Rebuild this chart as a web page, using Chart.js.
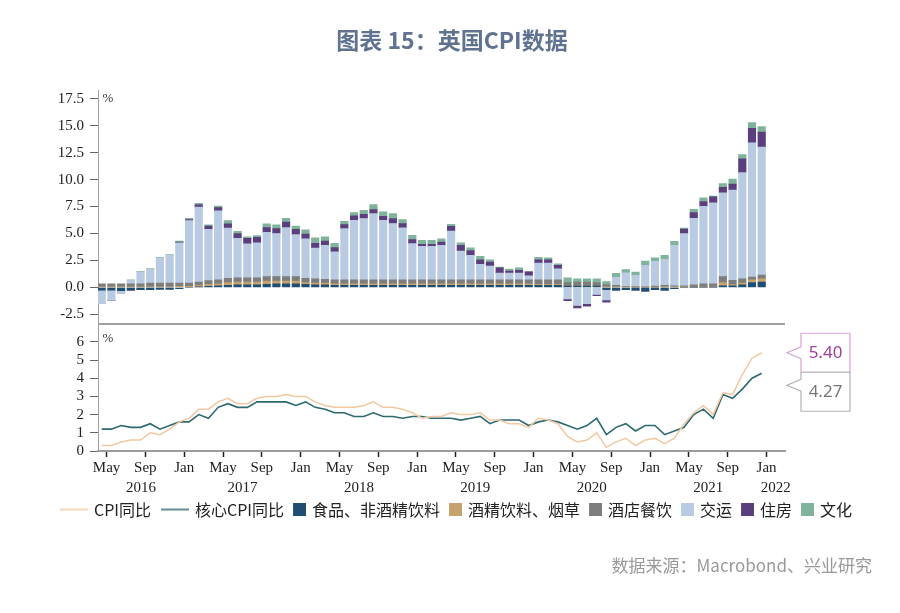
<!DOCTYPE html>
<html lang="zh">
<head>
<meta charset="UTF-8">
<title>图表 15：英国CPI数据</title>
<script src="https://cdn.jsdelivr.net/npm/chart.js"></script>
<style>
  body { margin: 0; background: #fff; }
</style>
</head>
<body>
<canvas id="cpiChart" width="900" height="613"></canvas>
<script>
// months Apr 2016 .. Dec 2021
const months = [
  '2016-04','2016-05','2016-06','2016-07','2016-08','2016-09','2016-10','2016-11','2016-12',
  '2017-01','2017-02','2017-03','2017-04','2017-05','2017-06','2017-07','2017-08','2017-09','2017-10','2017-11','2017-12',
  '2018-01','2018-02','2018-03','2018-04','2018-05','2018-06','2018-07','2018-08','2018-09','2018-10','2018-11','2018-12',
  '2019-01','2019-02','2019-03','2019-04','2019-05','2019-06','2019-07','2019-08','2019-09','2019-10','2019-11','2019-12',
  '2020-01','2020-02','2020-03','2020-04','2020-05','2020-06','2020-07','2020-08','2020-09','2020-10','2020-11','2020-12',
  '2021-01','2021-02','2021-03','2021-04','2021-05','2021-06','2021-07','2021-08','2021-09','2021-10','2021-11','2021-12'
];

// bottom panel, %
const cpiYoY = [
  0.3, 0.3, 0.5, 0.6, 0.6, 1.0, 0.9, 1.2, 1.6,
  1.8, 2.3, 2.3, 2.7, 2.9, 2.6, 2.6, 2.9, 3.0, 3.0, 3.1, 3.0,
  3.0, 2.7, 2.5, 2.4, 2.4, 2.4, 2.5, 2.7, 2.4, 2.4, 2.3, 2.1,
  1.8, 1.9, 1.9, 2.1, 2.0, 2.0, 2.1, 1.7, 1.7, 1.5, 1.5, 1.3,
  1.8, 1.7, 1.5, 0.8, 0.5, 0.6, 1.0, 0.2, 0.5, 0.7, 0.3, 0.6,
  0.7, 0.4, 0.7, 1.5, 2.1, 2.5, 2.0, 3.2, 3.1, 4.2, 5.1, 5.40
];
const coreYoY = [
  1.2, 1.2, 1.4, 1.3, 1.3, 1.5, 1.2, 1.4, 1.6,
  1.6, 2.0, 1.8, 2.4, 2.6, 2.4, 2.4, 2.7, 2.7, 2.7, 2.7, 2.5,
  2.7, 2.4, 2.3, 2.1, 2.1, 1.9, 1.9, 2.1, 1.9, 1.9, 1.8, 1.9,
  1.9, 1.8, 1.8, 1.8, 1.7, 1.8, 1.9, 1.5, 1.7, 1.7, 1.7, 1.4,
  1.6, 1.7, 1.6, 1.4, 1.2, 1.4, 1.8, 0.9, 1.3, 1.5, 1.1, 1.4,
  1.4, 0.9, 1.1, 1.3, 2.0, 2.3, 1.8, 3.1, 2.9, 3.4, 4.0, 4.27
];

// top panel components, %
const food = [
  -0.25, -0.25, -0.3, -0.25, -0.2, -0.2, -0.15, -0.15, -0.1,
  0.0, 0.05, 0.1, 0.15, 0.2, 0.25, 0.25, 0.25, 0.3, 0.35, 0.35, 0.35,
  0.3, 0.25, 0.25, 0.2, 0.2, 0.2, 0.2, 0.2, 0.2, 0.2, 0.2, 0.2,
  0.2, 0.2, 0.2, 0.2, 0.2, 0.2, 0.2, 0.2, 0.2, 0.2, 0.2, 0.2,
  0.2, 0.2, 0.2, 0.15, 0.15, 0.15, 0.15, -0.2, -0.25, -0.2, -0.25, -0.35,
  -0.2, -0.25, -0.1, 0.0, 0.02, 0.03, 0.03, 0.15, 0.15, 0.25, 0.46, 0.5
];
const alcohol = [
  0.05, 0.05, 0.05, 0.05, 0.05, 0.05, 0.05, 0.05, 0.1,
  0.1, 0.15, 0.2, 0.2, 0.25, 0.25, 0.25, 0.25, 0.3, 0.25, 0.25, 0.25,
  0.15, 0.15, 0.15, 0.15, 0.15, 0.15, 0.15, 0.15, 0.15, 0.15, 0.15, 0.15,
  0.15, 0.15, 0.15, 0.15, 0.15, 0.15, 0.15, 0.15, 0.15, 0.15, 0.15, 0.15,
  0.1, 0.1, 0.1, 0.05, 0.05, 0.05, 0.05, 0.05, 0.05, 0.05, 0.03, 0.03,
  0.03, 0.05, 0.05, 0.05, 0.03, 0.05, 0.05, 0.3, 0.12, 0.15, 0.25, 0.3
];
const restaurants = [
  0.3, 0.3, 0.3, 0.3, 0.3, 0.35, 0.35, 0.35, 0.3,
  0.3, 0.3, 0.35, 0.35, 0.4, 0.4, 0.4, 0.4, 0.4, 0.4, 0.4, 0.4,
  0.4, 0.4, 0.35, 0.35, 0.35, 0.35, 0.35, 0.35, 0.35, 0.35, 0.35, 0.35,
  0.35, 0.35, 0.35, 0.35, 0.35, 0.35, 0.35, 0.35, 0.35, 0.35, 0.35, 0.35,
  0.4, 0.4, 0.4, 0.25, 0.3, 0.3, 0.25, 0.2, 0.15, 0.05, 0.05, 0.02,
  0.1, 0.15, 0.1, 0.1, 0.2, 0.25, 0.27, 0.55, 0.4, 0.4, 0.25, 0.34
];
const transport = [
  -1.25, -0.95, -0.2, 0.3, 1.1, 1.3, 2.35, 2.6, 3.75,
  5.8, 6.95, 4.75, 6.4, 4.65, 3.65, 3.15, 3.25, 4.1, 4.0, 4.55, 3.9,
  3.65, 2.85, 3.15, 2.6, 4.75, 5.53, 5.69, 6.15, 5.53, 5.23, 4.82, 3.36,
  3.11, 3.11, 3.2, 4.53, 2.68, 2.27, 1.44, 1.28, 0.63, 0.63, 0.63, 0.38,
  1.56, 1.56, 1.04, -1.05, -1.67, -1.5, -0.65, -0.95, 0.75, 1.25, 1.05, 2.0,
  2.3, 2.4, 3.75, 4.84, 6.17, 7.18, 7.5, 7.77, 8.35, 9.85, 12.45, 11.86
];
const housing = [
  0, 0, 0, 0, 0, 0, 0, 0, 0.05,
  0.1, 0.2, 0.3, 0.3, 0.4, 0.45, 0.5, 0.5, 0.45, 0.45, 0.5, 0.5,
  0.45, 0.45, 0.4, 0.4, 0.37, 0.4, 0.4, 0.37, 0.37, 0.46, 0.4, 0.37,
  0.19, 0.19, 0.31, 0.43, 0.53, 0.46, 0.43, 0.37, 0.5, 0.19, 0.25, 0.37,
  0.31, 0.31, 0.31, -0.16, -0.22, -0.22, -0.1, -0.2, 0, 0, 0, 0,
  0, 0, 0, 0.42, 0.53, 0.46, 0.55, 0.5, 0.56, 1.27, 1.33, 1.4
];
const culture = [
  0, 0, 0, 0.05, 0.05, 0.05, 0.05, 0.05, 0.1,
  0.1, 0.15, 0.1, 0.15, 0.3, 0.2, 0.15, 0.15, 0.35, 0.35, 0.35, 0.3,
  0.4, 0.5, 0.4, 0.4, 0.31, 0.31, 0.37, 0.46, 0.4, 0.46, 0.37, 0.4,
  0.37, 0.37, 0.31, 0.19, 0.22, 0.25, 0.31, 0.22, 0.06, 0.19, 0.25, 0.03,
  0.22, 0.19, 0.15, 0.45, 0.3, 0.3, 0.35, 0.3, 0.37, 0.3, 0.3, 0.4,
  0.33, 0.37, 0.37, 0.1, 0.3, 0.33, 0.06, 0.37, 0.46, 0.4, 0.53, 0.5
];

// axis labels
const tickMonths = [
  '2016-05','2016-09','2017-01','2017-05','2017-09','2018-01','2018-05','2018-09',
  '2019-01','2019-05','2019-09','2020-01','2020-05','2020-09','2021-01','2021-05','2021-09','2022-01'
];
const monthNames = { 1: 'Jan', 5: 'May', 9: 'Sep' };
const yearLabels = ['2016', '2017', '2018', '2019', '2020', '2021', '2022'];
const barTicks = [-2.5, 0, 2.5, 5, 7.5, 10, 12.5, 15, 17.5];
const lineTicks = [0, 1, 2, 3, 4, 5, 6, 7];

////////////////////////////////////////////////////
// x is counted in months from Jan 2016
function monthStart(m) {
  const [y, mo] = m.split('-').map(Number);
  return (y - 2016) * 12 + (mo - 1);
}
const xMin = 3.12, xMax = 73.9;
function toPoints(vals) {
  return months.map((m, i) => ({ x: monthStart(m) + 0.5, y: vals[i] }));
}
function yearCenter(y) {
  const s = Math.max((+y - 2016) * 12, xMin);
  const e = Math.min((+y - 2015) * 12, xMax);
  return (s + e) / 2;
}

const serif = { family: 'Liberation Serif', size: 15 };
const cjk = 'Noto Sans CJK SC';

// legend icons (slot is 18px wide, image is centred on it)
function lineIcon(color) {
  const c = document.createElement('canvas');
  c.width = 54; c.height = 4;
  const g = c.getContext('2d');
  g.strokeStyle = color; g.lineWidth = 1.5;
  g.beginPath(); g.moveTo(26, 2); g.lineTo(54, 2); g.stroke();
  return c;
}
function boxIcon(color) {
  const c = document.createElement('canvas');
  c.width = 22; c.height = 13;
  const g = c.getContext('2d');
  g.fillStyle = color; g.fillRect(9, 0, 13, 13);
  return c;
}

function barSet(label, vals, color) {
  return {
    label: label, data: toPoints(vals), backgroundColor: color,
    stack: 'cpi', xAxisID: 'x', yAxisID: 'yBar',
    barThickness: 7.5, borderWidth: 0
  };
}
function lineSet(label, vals, color, width) {
  return {
    type: 'line', label: label, data: toPoints(vals), borderColor: color,
    borderWidth: width, pointRadius: 0, tension: 0, fill: false,
    xAxisID: 'x', yAxisID: 'yLine'
  };
}

// % marks and the last-value callouts
const panelNotes = {
  id: 'panelNotes',
  afterDraw(chart) {
    const { ctx, chartArea } = chart;
    const yb = chart.scales.yBar, yl = chart.scales.yLine;
    ctx.save();
    ctx.font = '13px "Liberation Serif"';
    ctx.fillStyle = '#333';
    ctx.textAlign = 'center';
    ctx.textBaseline = 'middle';
    ctx.fillText('%', chartArea.left + 10, yb.top + 9);
    ctx.fillText('%', chartArea.left + 10, yl.top + 15);

    const callouts = [
      { value: cpiYoY[cpiYoY.length - 1], color: '#a2409d', border: '#d9a6d5' },
      { value: coreYoY[coreYoY.length - 1], color: '#777777', border: '#b3b3b3' }
    ];
    const left = chartArea.right + 16, w = 49, h = 39;
    let prevBottom = -Infinity;
    ctx.font = '17px "Noto Sans"';
    ctx.lineWidth = 1.2;
    callouts.forEach(c => {
      const vy = yl.getPixelForValue(c.value);
      const top = Math.max(vy - h / 2, prevBottom);
      const tipY = Math.min(Math.max(vy, top + 13), top + h - 13);
      ctx.beginPath();
      ctx.moveTo(left, top);
      ctx.lineTo(left + w, top);
      ctx.lineTo(left + w, top + h);
      ctx.lineTo(left, top + h);
      ctx.lineTo(left, tipY + 6);
      ctx.lineTo(chartArea.right + 2, tipY);
      ctx.lineTo(left, tipY - 6);
      ctx.closePath();
      ctx.fillStyle = '#fff';
      ctx.fill();
      ctx.strokeStyle = c.border;
      ctx.stroke();
      ctx.fillStyle = c.color;
      ctx.fillText(c.value.toFixed(2), left + w / 2, top + h / 2);
      prevBottom = top + h;
    });
    ctx.restore();
  }
};

const isTop = c => c.tick && c.tick.value === 7;

new Chart(document.getElementById('cpiChart'), {
  type: 'bar',
  data: {
    datasets: [
      lineSet('CPI同比', cpiYoY, '#f2c8a0', 1.5),
      lineSet('核心CPI同比', coreYoY, '#2c6a70', 1.6),
      barSet('食品、非酒精饮料', food, '#1f4e74'),
      barSet('酒精饮料、烟草', alcohol, '#c6a26c'),
      barSet('酒店餐饮', restaurants, '#7d7d7d'),
      barSet('交运', transport, '#b8cbe3'),
      barSet('住房', housing, '#5b3e7e'),
      barSet('文化', culture, '#7fb39b')
    ]
  },
  options: {
    responsive: false,
    animation: false,
    layout: { padding: { left: 32, right: 28, top: 0, bottom: 0 } },
    scales: {
      x: {
        type: 'linear', position: 'bottom', min: xMin, max: xMax, bounds: 'data', offset: false,
        afterBuildTicks: s => {
          const t = tickMonths.map(m => ({ value: monthStart(m) }))
            .concat(yearLabels.map(y => ({ value: yearCenter(y), year: y })));
          s.ticks = t.sort((a, b) => a.value - b.value);
        },
        grid: {
          display: true, offset: false, drawOnChartArea: false, drawTicks: true, tickLength: 6, tickWidth: 1.5,
          tickColor: c => (c.tick && c.tick.year) ? 'rgba(0,0,0,0)' : '#222'
        },
        border: { display: true, color: '#9c9c9c', width: 2 },
        ticks: {
          autoSkip: false, maxRotation: 0, padding: 1, color: '#222',
          font: { family: 'Liberation Serif', size: 15, lineHeight: 1.35 },
          callback: (v, i, ticks) => ticks[i].year ? ['', ticks[i].year] : monthNames[(Math.round(v) % 12) + 1]
        }
      },
      yLine: {
        type: 'linear', position: 'left', stack: 'panels', stackWeight: 127, weight: 0,
        min: 0, max: 7, bounds: 'data',
        afterBuildTicks: s => { s.ticks = lineTicks.map(v => ({ value: v })); },
        afterFit: s => { s.width = 66; },
        grid: {
          drawOnChartArea: true, drawTicks: true, tickLength: 8, tickWidth: 1,
          color: c => isTop(c) ? '#a0a0a0' : 'rgba(0,0,0,0)',
          lineWidth: c => isTop(c) ? 2 : 1,
          tickColor: c => isTop(c) ? 'rgba(0,0,0,0)' : '#666'
        },
        border: { color: '#a0a0a0', width: 1 },
        ticks: { autoSkip: false, padding: 6, color: '#222', font: serif, callback: v => v === 7 ? '' : v }
      },
      yBar: {
        type: 'linear', position: 'left', stack: 'panels', stackWeight: 233, weight: 1, stacked: true,
        min: -3.35, max: 18.3, bounds: 'data',
        afterBuildTicks: s => { s.ticks = barTicks.map(v => ({ value: v })); },
        afterFit: s => { s.width = 66; },
        grid: { drawOnChartArea: false, drawTicks: true, tickLength: 8, tickColor: '#666' },
        border: { color: '#a0a0a0', width: 1 },
        ticks: { autoSkip: false, padding: 6, color: '#222', font: serif, callback: v => v.toFixed(1) }
      },
      yr: {
        type: 'linear', position: 'right', display: true,
        afterFit: s => { s.width = 87; },
        grid: { display: false, drawTicks: false },
        border: { display: false },
        ticks: { display: false }
      }
    },
    plugins: {
      title: {
        display: true, text: '图表 15：英国CPI数据', color: '#5f7390',
        font: { family: cjk, size: 23, weight: 'bold' },
        padding: { top: 26, bottom: 36.4 }
      },
      subtitle: {
        display: true, position: 'bottom', align: 'end', text: '数据来源：Macrobond、兴业研究', color: '#999',
        font: { family: cjk, size: 17 },
        padding: { top: 27.8, bottom: 37.3 }
      },
      legend: {
        position: 'bottom',
        labels: {
          usePointStyle: true, pointStyleWidth: 18, padding: 2, color: '#222',
          font: { family: cjk, size: 16 },
          generateLabels: chart => chart.data.datasets.map((ds, i) => ({
            text: (ds.type === 'line' ? '\u3000' : '') + ds.label,
            datasetIndex: i, hidden: false, fontColor: '#222',
            pointStyle: ds.type === 'line' ? lineIcon(ds.borderColor) : boxIcon(ds.backgroundColor),
            fillStyle: 'rgba(0,0,0,0)', strokeStyle: 'rgba(0,0,0,0)', lineWidth: 0
          }))
        }
      },
      tooltip: { enabled: false }
    }
  },
  plugins: [panelNotes]
});
</script>
</body>
</html>
